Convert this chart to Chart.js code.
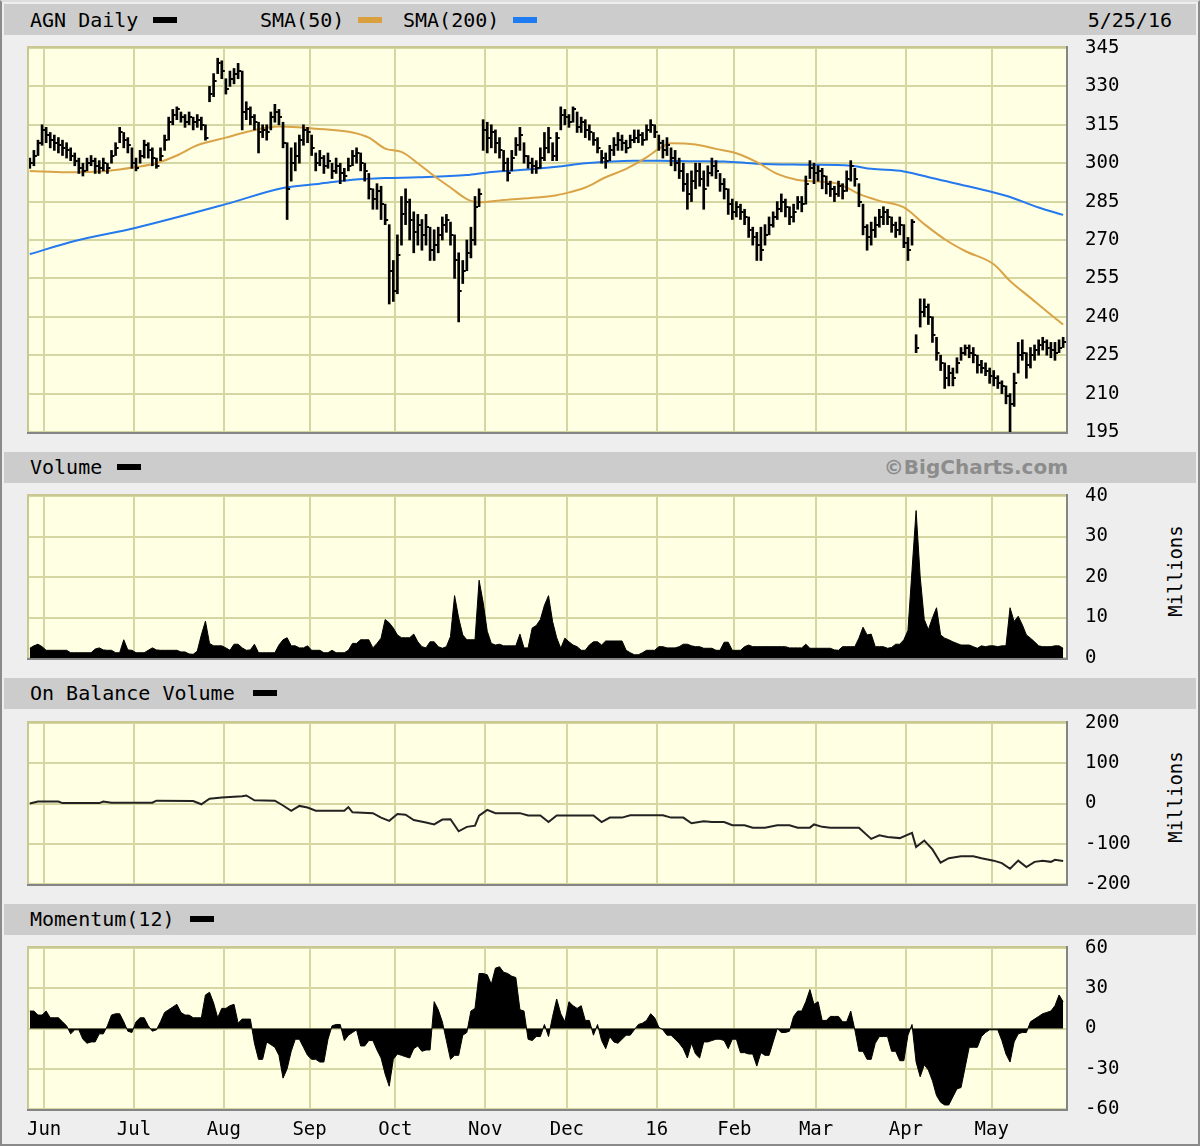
<!DOCTYPE html>
<html>
<head>
<meta charset="utf-8">
<title>AGN Daily</title>
<script src="https://cdn.jsdelivr.net/npm/chart.js@4.4.1/dist/chart.umd.min.js"></script>
<style>
  html, body { margin: 0; padding: 0; background: #eeeeee; }
  #page { position: relative; width: 1200px; height: 1146px; overflow: hidden; background: #eeeeee; }
  .band { position: absolute; left: 4px; width: 1192px; height: 31px; background: #cccccc; }
  .lbl { position: absolute; font: 20px "DejaVu Sans Mono", monospace; color: #000; line-height: 20px; white-space: nowrap; }
  .sw { position: absolute; width: 24px; height: 6px; }
  .mil { position: absolute; width: 100px; height: 20px; text-align: center; font: 19px "DejaVu Sans Mono", monospace; line-height: 20px; transform: rotate(-90deg); }
  .brand { position: absolute; right: 132px; font: bold 20px "DejaVu Sans", sans-serif; color: #8c8c8c; line-height: 20px; }
  canvas { position: absolute; left: 0; }
  #frame { position: absolute; left: 0; top: 0; width: 1196px; height: 1142px; border: 2px solid #8a8a8a; border-top-color: #dddddd; pointer-events: none; }
</style>
</head>
<body>
<div id="page">
  <div class="band" style="top:4px"></div>
  <div class="band" style="top:452px"></div>
  <div class="band" style="top:678px"></div>
  <div class="band" style="top:904px"></div>

  <div class="lbl" style="left:30px;top:10px">AGN Daily</div>
  <div class="sw" style="left:153px;top:17px;background:#000"></div>
  <div class="lbl" style="left:260px;top:10px">SMA(50)</div>
  <div class="sw" style="left:358px;top:17px;background:#d9a03f"></div>
  <div class="lbl" style="left:403px;top:10px">SMA(200)</div>
  <div class="sw" style="left:513px;top:17px;background:#1f7bf2"></div>
  <div class="lbl" style="right:28px;top:10px">5/25/16</div>

  <div class="lbl" style="left:30px;top:457px">Volume</div>
  <div class="sw" style="left:117px;top:464px;background:#000"></div>
  <div class="brand" style="top:457px">©BigCharts.com</div>

  <div class="lbl" style="left:30px;top:683px">On Balance Volume</div>
  <div class="sw" style="left:253px;top:690px;background:#000"></div>

  <div class="lbl" style="left:30px;top:909px">Momentum(12)</div>
  <div class="sw" style="left:190px;top:916px;background:#000"></div>

  <div class="mil" style="left:1125px;top:561px">Millions</div>
  <div class="mil" style="left:1125px;top:787px">Millions</div>

  <canvas id="cPrice" width="1200" height="408" style="top:36px"></canvas>
  <canvas id="cVol" width="1200" height="186" style="top:484px"></canvas>
  <canvas id="cObv" width="1200" height="185" style="top:711px"></canvas>
  <canvas id="cMom" width="1200" height="206" style="top:936px"></canvas>
  <div id="frame"></div>
</div>

<script>
// trading-day index 0 = 5/26/15 ... 253 = 5/25/16
const monthStart = [4, 26, 48, 69, 90, 112, 132, 154, 173, 193, 215, 236];
const monthLabels = ['Jun', 'Jul', 'Aug', 'Sep', 'Oct', 'Nov', 'Dec', '16', 'Feb', 'Mar', 'Apr', 'May'];

const priceTicks = [195, 210, 225, 240, 255, 270, 285, 300, 315, 330, 345];
const volTicks = [0, 10, 20, 30, 40];
const obvTicks = [-200, -100, 0, 100, 200];
const momTicks = [-60, -30, 0, 30, 60];

const closes = [
  300,303,308,313,311,309,308,307,306,305,
  303,301,298,297,300,301,299,298,300,298,
  303,306,312,309,307,300,298,303,307,305,
  302,299,303,309,316,319,321,318,316,318,
  316,317,315,310,327,332,339,336,329,333,
  335,336,320,321,318,316,312,313,312,318,
  320,318,308,290,300,303,309,313,312,306,
  300,302,299,301,297,299,296,295,299,303,
  304,300,297,290,286,289,284,278,258,250,
  264,280,285,278,273,276,272,275,266,268,
  272,276,278,272,262,250,258,265,270,283,
  288,313,310,312,308,305,300,296,302,307,
  311,303,300,299,298,302,306,310,303,310,
  319,318,316,321,314,316,313,312,309,306,
  302,301,305,307,309,308,306,309,310,311,
  309,313,315,312,308,305,307,302,300,297,
  292,288,293,297,294,290,296,299,297,292,
  290,284,281,283,281,279,274,271,268,266,
  272,276,279,282,285,283,279,281,285,284,
  292,298,296,297,295,292,290,288,291,289,
  294,299,294,285,275,271,274,276,279,281,
  279,276,274,276,269,266,277,228,242,244,
  240,233,226,222,216,218,216,222,226,228,
  226,225,221,220,219,217,216,214,213,209,
  206,214,225,226,221,225,227,229,230,228,
  227,226,228,230
];

const highs = [
  302,305,309,315,314,312,311,310,309,308,
  306,304,302,300,302,303,302,301,302,300,
  305,308,314,312,310,306,302,305,309,308,
  306,302,306,311,318,321,322,320,319,320,
  318,319,318,315,330,335,341,340,333,336,
  337,339,336,324,322,319,316,315,315,320,
  323,321,316,308,306,308,311,315,314,311,
  304,305,303,304,300,302,300,298,302,305,
  306,304,300,296,290,292,291,284,276,262,
  272,287,290,286,281,280,278,280,275,274,
  275,279,280,277,272,265,262,270,275,287,
  290,317,316,315,313,310,305,302,305,310,
  314,308,303,302,301,306,312,314,308,312,
  322,321,319,322,320,318,317,315,312,310,
  305,304,307,310,312,311,309,311,313,313,
  312,315,317,315,311,309,310,306,305,302,
  300,296,297,300,300,297,299,302,301,296,
  294,290,286,285,284,282,279,275,273,275,
  276,279,281,285,288,286,283,284,287,287,
  295,301,300,299,298,295,293,291,293,292,
  297,301,298,292,284,276,277,279,282,283,
  282,279,277,279,276,271,278,233,247,247,
  245,240,232,225,222,221,220,224,228,229,
  229,228,225,223,222,220,219,217,215,213,
  210,218,230,231,226,228,229,231,232,231,
  230,230,231,232
];

const lows = [
  298,299,303,307,308,306,305,304,303,302,
  301,299,296,295,297,299,296,296,297,296,
  300,303,308,306,304,298,297,300,302,302,
  299,298,301,305,309,315,317,316,314,315,
  313,314,313,309,324,326,335,333,327,330,
  331,333,313,317,315,313,304,310,309,313,
  316,315,306,278,293,297,300,307,308,303,
  297,299,296,298,294,296,292,293,297,299,
  300,297,293,286,282,282,278,276,245,246,
  249,268,276,270,265,268,266,268,262,262,
  265,270,273,268,255,238,253,258,263,268,
  283,305,304,306,304,302,297,293,297,303,
  305,300,298,296,296,298,301,304,301,301,
  313,315,314,316,312,312,310,309,307,304,
  300,298,301,303,305,305,304,306,308,308,
  307,309,312,310,305,302,303,299,297,294,
  289,282,285,290,291,282,291,295,294,289,
  286,280,278,279,278,276,271,268,262,262,
  268,272,275,278,281,279,276,277,282,281,
  284,294,292,293,290,288,287,285,287,286,
  289,293,291,283,272,266,268,271,275,276,
  276,273,271,272,267,262,268,226,236,240,
  237,230,223,219,212,213,213,218,223,225,
  224,222,218,218,217,214,213,212,210,206,
  195,205,218,223,216,220,223,225,227,225,
  224,223,226,228
];

// [day, value]
const sma50 = [
  [0,297],[9,296.5],[19,297],[26,298.5],[31,300],[36,303],[41,307],[48,310],[54,312.6],[61,314.3],
  [70,313.5],[79,312],[83,310],[87,305.7],[91,304.4],[95,300],[99,295],[103,290.5],[107,286],[110,284.7],
  [116,285.6],[124,286.6],[129,287.5],[132,288.6],[136,290.5],[141,294.5],[146,297.8],[151,302.3],[154,305.6],[157,307.8],
  [163,307.3],[168,305.6],[173,303.9],[178,300.4],[183,295.8],[188,293.4],[192,292.9],[198,291.9],[203,288],[208,285.3],
  [214,282.7],[219,276.2],[224,270.3],[229,265.7],[236,260.5],[240,254],[245,247.4],[250,240.8],[253,237]
];
const sma200 = [
  [0,264.5],[11,269.6],[26,274.8],[48,284],[62,290.3],[71,292],[79,293.5],[87,294.2],[95,294.5],[107,295.4],
  [112,296.4],[120,297.3],[129,298.6],[136,300],[148,301],[154,301],[163,300.8],[170,300.7],[178,299.8],[190,299.4],
  [201,299],[206,297.8],[214,296.8],[222,293.8],[231,290.5],[239,287.3],[247,282.7],[253,279.8]
];

// millions of shares
const volume = [
  2.4,3.0,3.4,2.8,1.9,1.9,1.9,1.9,1.9,1.9,
  1.3,1.3,1.3,1.3,1.3,1.3,2.2,2.5,2.0,1.9,
  1.9,1.3,1.3,4.5,2.0,1.9,1.3,1.3,1.3,1.9,
  2.5,2.0,1.9,1.9,1.9,1.9,1.9,1.5,1.5,1.0,
  0.9,1.7,5.7,9.1,3.6,3.0,3.0,3.0,2.5,1.9,
  3.4,3.4,2.5,1.9,2.0,3.4,1.3,1.3,1.3,1.3,
  1.3,3.2,4.5,5.0,3.0,3.0,2.5,2.5,3.0,1.9,
  1.9,1.9,1.3,1.3,1.9,1.3,1.3,1.3,1.9,3.6,
  3.6,4.5,4.5,4.5,2.5,3.6,4.9,9.5,8.7,7.4,
  5.7,5.0,5.0,5.0,5.9,4.0,2.8,2.5,4.0,4.0,
  2.8,2.4,2.8,5.3,15.4,9.9,5.7,4.5,4.5,4.5,
  19.2,13.7,6.6,3.6,3.2,3.4,3.0,3.0,3.0,3.0,
  5.9,2.5,2.5,7.4,8.0,9.5,13.0,15.4,9.0,5.0,
  2.4,4.9,4.0,3.2,2.8,1.9,1.9,3.2,4.0,4.0,
  3.2,4.2,4.2,4.2,4.2,4.2,1.9,1.3,0.8,0.8,
  1.3,1.9,1.9,1.9,2.8,2.8,2.5,2.5,2.5,2.8,
  3.4,3.4,3.0,2.8,2.8,2.4,2.4,2.4,1.9,1.9,
  3.9,3.9,1.9,1.9,1.9,2.8,3.2,2.8,2.8,2.8,
  2.8,2.8,2.8,2.8,2.8,2.8,2.5,2.5,2.5,2.5,
  3.4,2.4,2.4,2.4,2.4,2.4,2.4,2.0,1.9,2.8,
  2.8,2.8,2.8,4.9,7.6,5.7,5.9,2.8,2.8,2.8,
  2.4,2.6,3.4,3.4,4.5,6.8,21.7,36.4,20.0,9.5,
  7.0,9.9,12.4,5.7,4.9,4.5,4.0,3.6,3.2,3.2,
  3.2,2.8,2.4,3.0,2.8,3.0,3.0,2.8,3.0,3.0,
  12.4,9.0,10.3,8.2,5.7,4.9,4.0,3.0,2.8,2.8,
  2.8,3.0,3.0,2.4
];

// [day, millions]
const obv = [
  [0,0],[2,5],[7,5],[8,1],[17,1],[18,5],[20,2],[30,2],[31,7],[40,6],
  [42,-2],[44,12],[47,15],[52,18],[53,20],[55,8],[60,7],[62,-5],[64,-18],[66,-6],
  [68,-10],[70,-18],[77,-18],[78,-9],[79,-22],[84,-24],[86,-35],[88,-43],[90,-26],[92,-28],
  [94,-41],[97,-47],[99,-52],[101,-40],[103,-39],[105,-69],[107,-58],[109,-55],[110,-30],[112,-16],
  [114,-24],[120,-24],[122,-30],[125,-30],[127,-46],[129,-30],[138,-30],[140,-46],[142,-35],[145,-35],
  [147,-29],[155,-29],[157,-35],[160,-35],[162,-49],[165,-44],[167,-46],[170,-46],[172,-54],[175,-54],
  [177,-60],[180,-60],[183,-54],[186,-54],[188,-60],[191,-60],[192,-52],[194,-58],[196,-60],[203,-60],
  [206,-88],[208,-79],[210,-83],[213,-86],[216,-73],[217,-108],[219,-92],[221,-114],[223,-147],[225,-136],
  [228,-131],[231,-131],[233,-136],[236,-142],[238,-148],[240,-162],[242,-142],[244,-158],[246,-145],[248,-142],
  [250,-145],[251,-140],[253,-143]
];

const momentum = [
  13,13,10,10,13,8,8,8,5,2,
  -4,-1,-1,-8,-11,-10,-10,-4,-4,2,
  10,11,11,5,-2,-3,5,8,8,2,
  -2,-1,5,12,14,16,18,12,10,10,
  8,8,8,25,27,19,8,15,15,17,
  18,4,7,7,7,-11,-23,-23,-10,-12,
  -14,-20,-37,-30,-17,-8,-8,-14,-20,-23,
  -23,-25,-25,-8,2,3,3,-9,-5,-3,
  -1,-13,-13,-9,-9,-16,-22,-34,-43,-23,
  -19,-20,-21,-22,-15,-13,-17,-16,-16,20,
  14,5,-9,-23,-20,-20,-5,-3,13,15,
  41,41,40,33,45,46,42,41,39,38,
  14,13,-8,-9,-6,-6,3,-6,9,22,
  11,5,20,17,15,17,6,6,-5,3,
  -9,-15,-6,-10,-11,-8,-5,-5,-1,3,
  4,6,11,8,1,-1,-5,-5,-8,-11,
  -15,-22,-11,-19,-22,-10,-10,-9,-8,-8,
  -9,-15,-8,-8,-18,-18,-19,-19,-28,-18,
  -20,-20,-10,0,-3,-3,-2,9,13,13,
  20,29,18,20,6,6,9,9,9,5,
  5,13,-1,-17,-17,-23,-23,-11,-6,-6,
  -6,-17,-17,-24,-24,-5,3,-25,-36,-27,
  -31,-39,-50,-55,-57,-57,-51,-45,-44,-29,
  -14,-14,-14,-6,-3,-1,-1,-1,-9,-19,
  -25,-10,-4,-3,-3,5,7,9,11,12,
  13,17,25,20
];

const FONT = { family: '"DejaVu Sans Mono", monospace', size: 19 };
const GRID = '#d6d6a2';
const PLOT_BG = '#ffffe3';

const plotFrame = {
  id: 'plotFrame',
  beforeDraw(c) {
    const a = c.chartArea, g = c.ctx;
    g.save();
    g.fillStyle = PLOT_BG;
    g.fillRect(a.left, a.top, a.right - a.left, a.bottom - a.top);
    g.restore();
  },
  afterDraw(c) {
    const a = c.chartArea, g = c.ctx;
    g.save();
    g.lineWidth = 2;
    g.strokeStyle = '#c8c890';
    g.beginPath();
    g.moveTo(a.left - 1, a.bottom); g.lineTo(a.left - 1, a.top - 1); g.lineTo(a.right, a.top - 1);
    g.stroke();
    g.strokeStyle = '#858585';
    g.beginPath();
    g.moveTo(a.left - 2, a.bottom + 1); g.lineTo(a.right + 1, a.bottom + 1); g.lineTo(a.right + 1, a.top - 2);
    g.stroke();
    g.restore();
  }
};

// close tick on the right of each high-low bar
const closeTicks = {
  id: 'closeTicks',
  afterDatasetsDraw(c) {
    const xs = c.scales.x, ys = c.scales.y, g = c.ctx;
    g.save();
    g.strokeStyle = '#000';
    g.lineWidth = 2;
    g.beginPath();
    closes.forEach((v, i) => {
      const px = xs.getPixelForValue(i), py = Math.round(ys.getPixelForValue(v));
      g.moveTo(px, py);
      g.lineTo(px + 3, py);
    });
    g.stroke();
    g.restore();
  }
};

function xScale(showLabels) {
  return {
    type: 'linear', min: -0.2, max: 253.7, offset: false,
    afterBuildTicks: s => { s.ticks = monthStart.map(v => ({ value: v - 0.5 })); },
    afterFit: s => { s.height = showLabels ? 31 : 0; },
    grid: { color: GRID, lineWidth: 2, drawTicks: false, offset: false },
    border: { display: false },
    ticks: {
      display: showLabels, autoSkip: false, maxRotation: 0, padding: 10,
      color: '#000', font: FONT, callback: (v, i) => monthLabels[i]
    }
  };
}

function yScale(min, max, ticks) {
  return {
    position: 'right', min: min, max: max,
    afterBuildTicks: s => { s.ticks = ticks.map(v => ({ value: v })); },
    afterFit: s => { s.width = 134; },
    // invisible tick marks push the labels away from the plot edge
    grid: { color: GRID, lineWidth: 2, drawTicks: true, tickLength: 19, tickColor: 'rgba(0,0,0,0)' },
    border: { display: false },
    ticks: { padding: 0, color: '#000', font: FONT, callback: v => String(v) }
  };
}

function baseOptions(yOpts, showLabels) {
  return {
    responsive: false,
    animation: false,
    devicePixelRatio: 1,
    events: [],
    layout: { autoPadding: false, padding: { left: 29, right: 0, top: 12, bottom: showLabels ? 2 : 12 } },
    plugins: { legend: { display: false }, tooltip: { enabled: false } },
    scales: { x: xScale(showLabels), y: yOpts }
  };
}

const days = closes.map((_, i) => i);

new Chart(document.getElementById('cPrice'), {
  type: 'bar',
  data: {
    datasets: [
      {
        type: 'bar', order: 0,
        data: days.map(i => ({ x: i, y: [lows[i], highs[i]] })),
        backgroundColor: '#000', barThickness: 2, grouped: false
      },
      {
        type: 'line', order: 1,
        data: sma50.map(p => ({ x: p[0], y: p[1] })),
        borderColor: '#d9a448', borderWidth: 2, pointRadius: 0, cubicInterpolationMode: 'monotone'
      },
      {
        type: 'line', order: 2,
        data: sma200.map(p => ({ x: p[0], y: p[1] })),
        borderColor: '#2479ee', borderWidth: 2, pointRadius: 0, cubicInterpolationMode: 'monotone'
      }
    ]
  },
  options: baseOptions(yScale(195, 345, priceTicks), false),
  plugins: [plotFrame, closeTicks]
});

new Chart(document.getElementById('cVol'), {
  type: 'line',
  data: {
    datasets: [{
      data: days.map(i => ({ x: i, y: volume[i] })),
      fill: 'origin', backgroundColor: '#000', borderColor: '#000', borderWidth: 1, pointRadius: 0
    }]
  },
  options: baseOptions(yScale(0, 40, volTicks), false),
  plugins: [plotFrame]
});

new Chart(document.getElementById('cObv'), {
  type: 'line',
  data: {
    datasets: [{
      data: obv.map(p => ({ x: p[0], y: p[1] })),
      borderColor: '#222', borderWidth: 2, pointRadius: 0, fill: false
    }]
  },
  options: baseOptions(yScale(-200, 200, obvTicks), false),
  plugins: [plotFrame]
});

new Chart(document.getElementById('cMom'), {
  type: 'line',
  data: {
    datasets: [{
      data: days.map(i => ({ x: i, y: momentum[i] })),
      fill: 'origin', backgroundColor: '#000', borderColor: '#000', borderWidth: 1, pointRadius: 0
    }]
  },
  options: baseOptions(yScale(-60, 60, momTicks), true),
  plugins: [plotFrame]
});
</script>
</body>
</html>
